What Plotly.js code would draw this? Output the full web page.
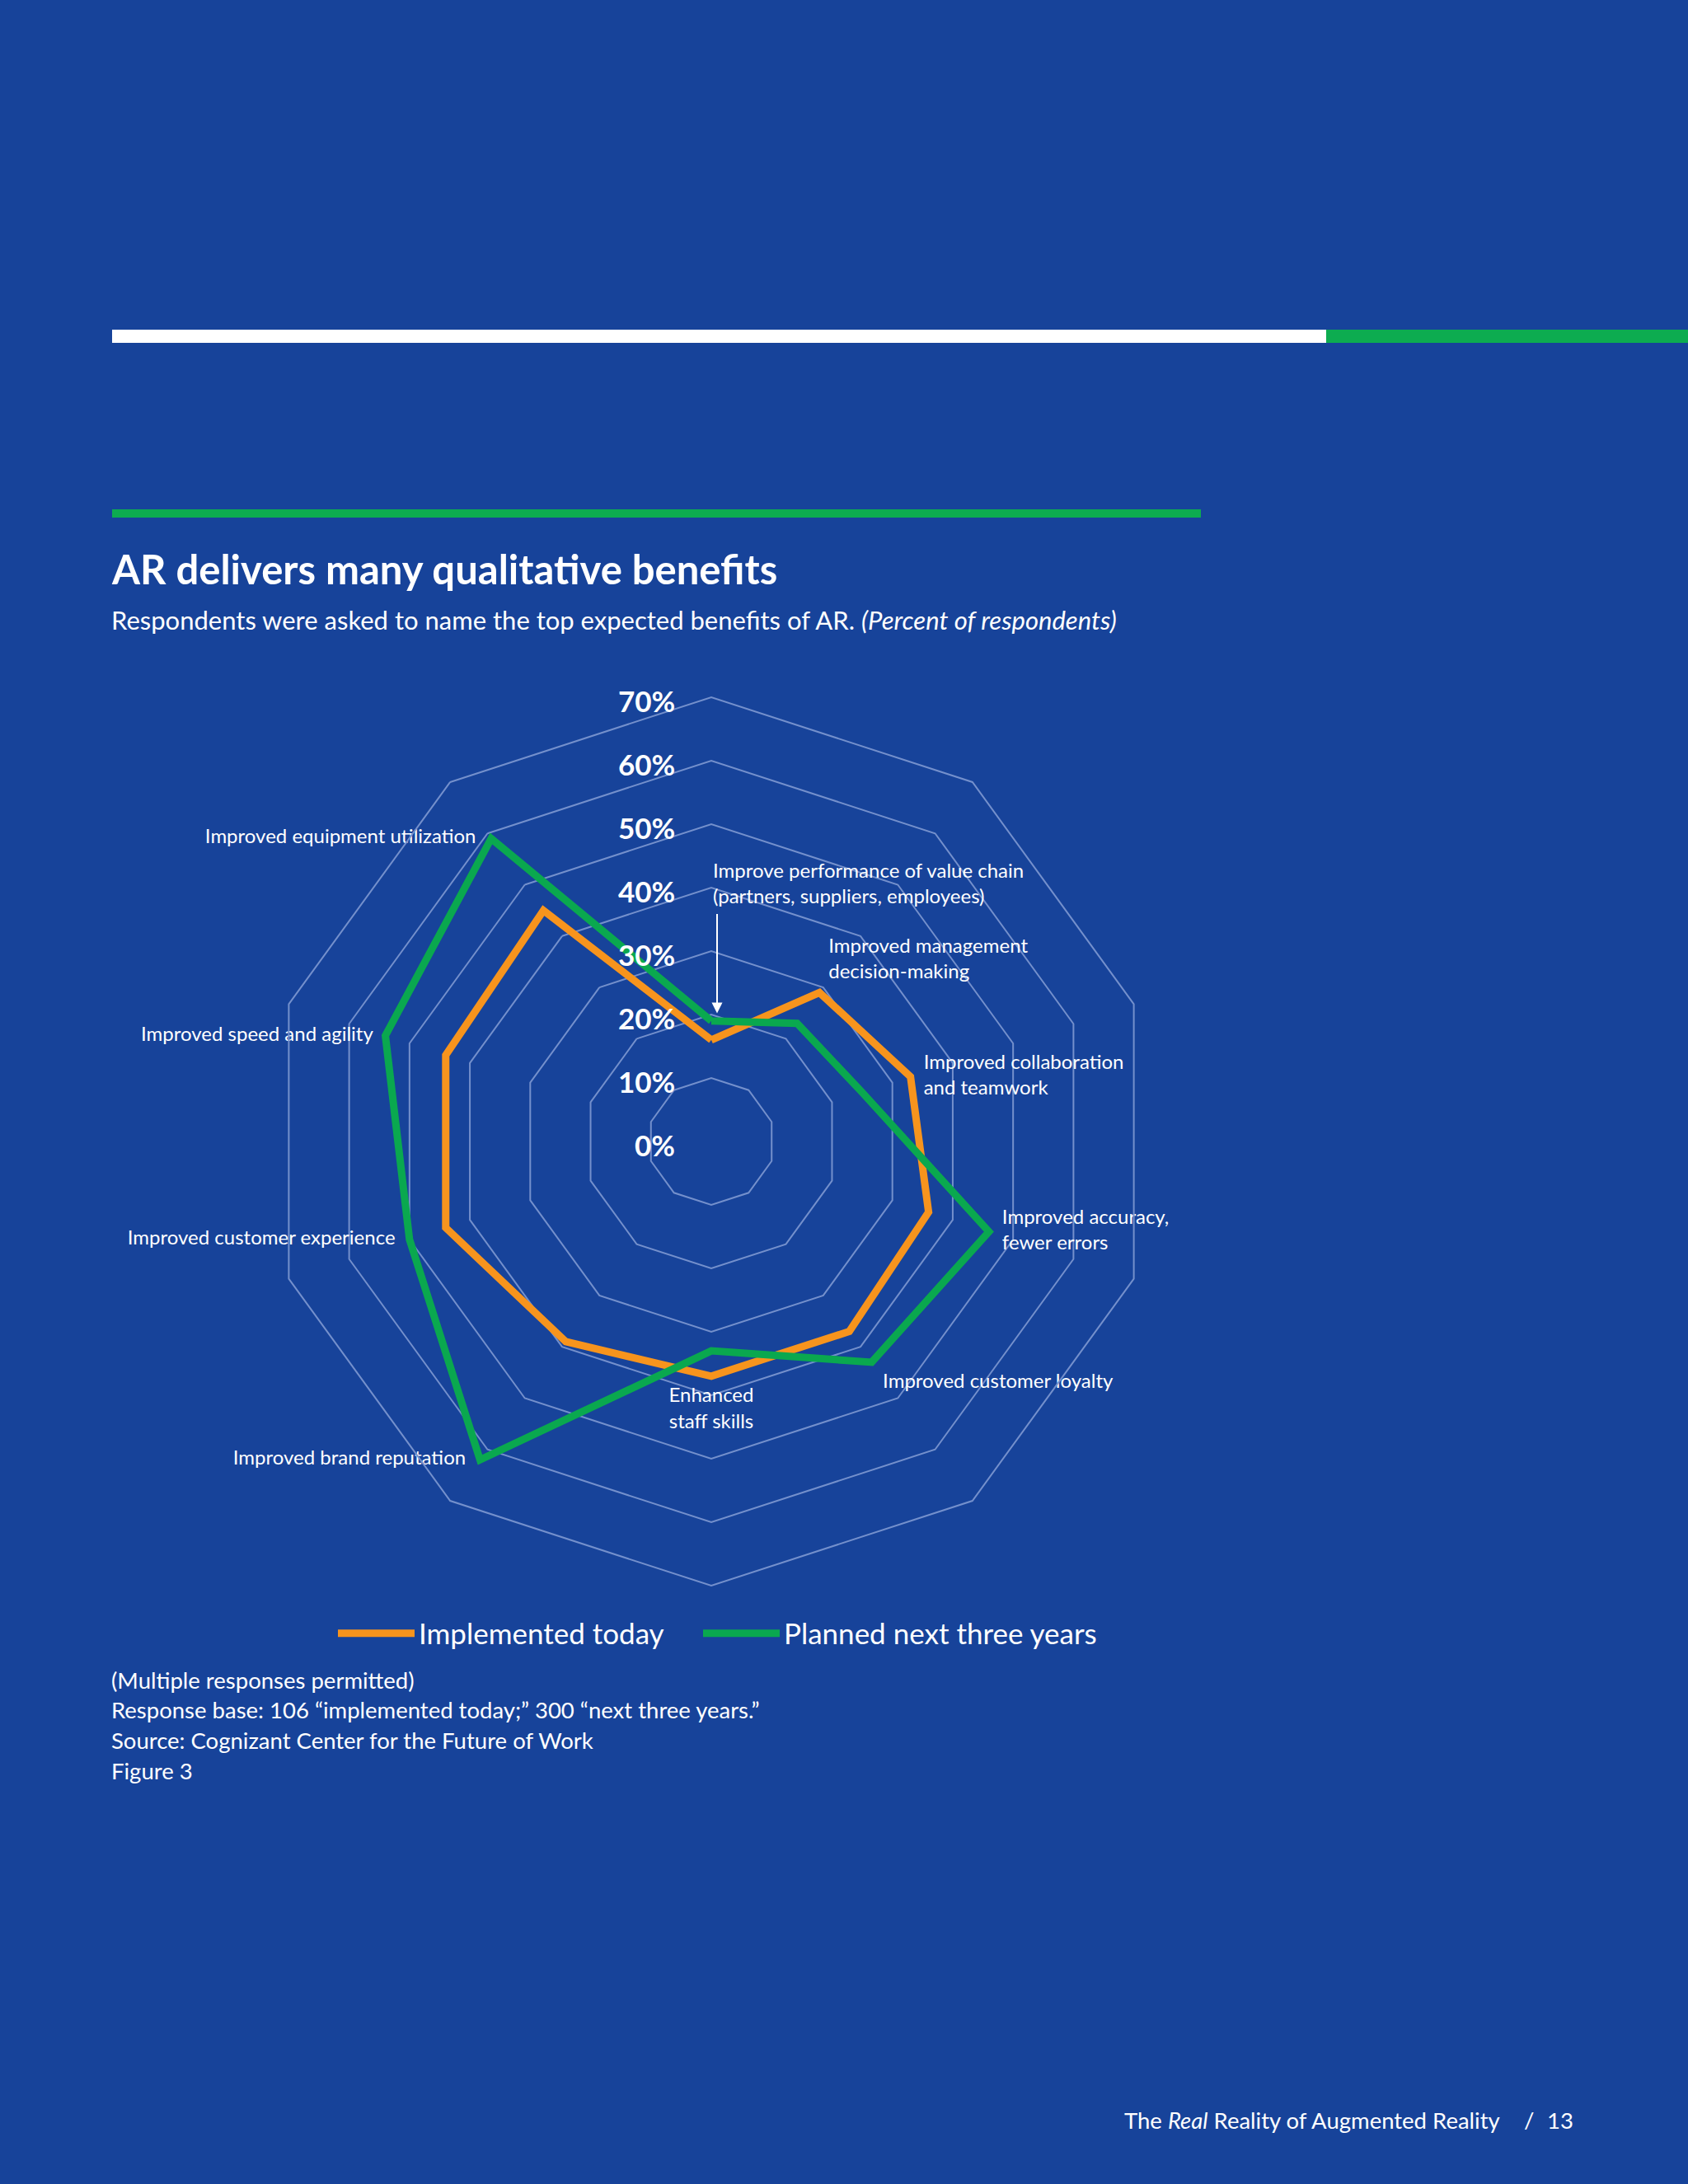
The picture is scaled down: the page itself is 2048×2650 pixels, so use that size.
<!DOCTYPE html>
<html>
<head>
<meta charset="utf-8">
<script src="https://cdn.plot.ly/plotly-3.0.1.min.js"></script>
<style>
  html, body { margin: 0; padding: 0; background: #17439a; }
  #chart { width: 2048px; height: 2650px; }
</style>
</head>
<body>
<div id="chart"></div>
<script>
// values, percent of respondents
const categories = [
    "Improve performance of value chain",
    "Improved management decision-making",
    "Improved collaboration and teamwork",
    "Improved accuracy, fewer errors",
    "Improved customer loyalty",
    "Enhanced staff skills",
    "Improved brand reputation",
    "Improved customer experience",
    "Improved speed and agility",
    "Improved equipment utilization"
];
const category_labels = [
    "",
    "Improved management<br>decision-making",
    "Improved collaboration<br>and teamwork",
    "Improved accuracy,<br>fewer errors",
    "Improved customer loyalty",
    "Enhanced<br>staff skills",
    "Improved brand reputation",
    "Improved customer experience",
    "Improved speed and agility",
    "Improved equipment utilization"
];
const implemented_today = [16, 29, 33, 36, 37, 37, 39, 44, 44, 45];
const planned_next_three_years = [19, 23, 25, 46, 43, 33, 62, 50, 54, 59];
const radial_ticks = [0, 10, 20, 30, 40, 50, 60, 70];
const series_names = ["Implemented today", "Planned next three years"];
const footnotes = [
    "(Multiple responses permitted)",
    "Response base: 106 \u201cimplemented today;\u201d 300 \u201cnext three years.\u201d",
    "Source: Cognizant Center for the Future of Work",
    "Figure 3"
];

// page geometry
const W = 2048, H = 2650;
const BG = "#17439a";
const ORANGE = "#f7941d";
const GREEN = "#0aa84f";
const GRID = "#7490cc";
const FONT = "Lato, 'Open Sans', sans-serif";

// polar centre and outer radius in pixels
const cx = 863, cy = 1385, R = 539;
const r_max = 70;

function px(x) { return x / W; }
function py(y) { return 1 - y / H; }

// map a value on the spoke of category idx to paper coordinates
function polar_to_paper(r, idx) {
    let ang = idx * 2 * Math.PI / categories.length;
    let d = r / r_max * R;
    return {x: px(cx + d * Math.sin(ang)), y: py(cy - d * Math.cos(ang))};
}

function closed(arr) { return arr.concat([arr[0]]); }

let label_r = categories.map((c, i) => Math.max(implemented_today[i], planned_next_three_years[i]));
let label_pos = ["top right", "top right", "middle right", "middle right", "bottom right",
                 "bottom center", "middle left", "middle left", "middle left", "middle left"];
let label_gap = [20, 16, 24, 24, 20, 20, 26, 26, 22, 28];

let data = [
    {
        type: "scatterpolar",
        name: series_names[0],
        legend: "legend",
        r: closed(implemented_today),
        theta: closed(categories),
        mode: "lines",
        line: {color: ORANGE, width: 9},
        hoverinfo: "skip"
    },
    {
        type: "scatterpolar",
        name: series_names[1],
        legend: "legend2",
        r: closed(planned_next_three_years),
        theta: closed(categories),
        mode: "lines",
        line: {color: GREEN, width: 9},
        hoverinfo: "skip"
    },
    {
        // category names next to the outermost point of each spoke
        type: "scatterpolar",
        r: label_r,
        theta: categories,
        mode: "markers+text",
        text: category_labels,
        textposition: label_pos,
        textfont: {family: FONT, size: 24, color: "white"},
        marker: {size: label_gap, color: "rgba(0,0,0,0)", opacity: 0, line: {width: 0}},
        cliponaxis: false,
        showlegend: false,
        hoverinfo: "skip"
    }
];

let tip = polar_to_paper(planned_next_three_years[0] + 1.2, 0);

let annotations = [
    {
        xref: "paper", yref: "paper", x: px(133), y: py(690),
        xanchor: "left", yanchor: "middle", showarrow: false,
        text: "AR delivers many qualitative benefits",
        font: {family: FONT, size: 49, color: "white", weight: 700}
    },
    {
        xref: "paper", yref: "paper", x: px(133), y: py(752),
        xanchor: "left", yanchor: "middle", showarrow: false,
        text: "Respondents were asked to name the top expected benefits of AR. <i>(Percent of respondents)</i>",
        font: {family: FONT, size: 31, color: "white"}
    },
    {
        // arrow down to the value-chain spoke
        xref: "paper", yref: "paper", x: tip.x, y: tip.y, xshift: 7,
        ax: 0, ay: -122, text: "", showarrow: true,
        arrowhead: 2, arrowsize: 1.3, arrowwidth: 2, arrowcolor: "white"
    },
    {
        xref: "paper", yref: "paper", x: tip.x, y: tip.y, yshift: 158,
        xanchor: "left", yanchor: "middle", align: "left", showarrow: false,
        text: "Improve performance of value chain<br>(partners, suppliers, employees)",
        font: {family: FONT, size: 24, color: "white"}
    },
    {
        xref: "paper", yref: "paper", x: px(1822), y: py(2572),
        xanchor: "right", yanchor: "middle", showarrow: false,
        text: "The <i>Real</i> Reality of Augmented Reality",
        font: {family: FONT, size: 27.5, color: "white"}
    },
    {
        xref: "paper", yref: "paper", x: px(1855), y: py(2572),
        xanchor: "center", yanchor: "middle", showarrow: false,
        text: "/", font: {family: FONT, size: 27.5, color: "white"}
    },
    {
        xref: "paper", yref: "paper", x: px(1911), y: py(2572),
        xanchor: "right", yanchor: "middle", showarrow: false,
        text: "13", font: {family: FONT, size: 27.5, color: "white"}
    }
];

// percent labels up the top spoke
for (let v of radial_ticks) {
    let p = polar_to_paper(v, 0);
    annotations.push({
        xref: "paper", yref: "paper", x: p.x, y: p.y, xshift: -42, yshift: -4,
        xanchor: "right", yanchor: "middle", showarrow: false,
        text: v + "%",
        font: {family: FONT, size: 35, color: "white", weight: 700}
    });
}

for (let i = 0; i < footnotes.length; i++) {
    annotations.push({
        xref: "paper", yref: "paper", x: px(133), y: py(2038 + i * 36.7),
        xanchor: "left", yanchor: "middle", showarrow: false,
        text: footnotes[i],
        font: {family: FONT, size: 27.5, color: "white"}
    });
}

let shapes = [
    {type: "rect", xref: "paper", yref: "paper", x0: px(136), x1: px(1609), y0: py(400), y1: py(416),
     fillcolor: "white", line: {width: 0}},
    {type: "rect", xref: "paper", yref: "paper", x0: px(1609), x1: 1, y0: py(400), y1: py(416),
     fillcolor: "#0dac50", line: {width: 0}},
    {type: "rect", xref: "paper", yref: "paper", x0: px(136), x1: px(1457), y0: py(618), y1: py(628),
     fillcolor: "#0dac50", line: {width: 0}}
];

let legend_style = {
    orientation: "h",
    y: py(1982),
    xanchor: "left", yanchor: "middle",
    bgcolor: "rgba(0,0,0,0)",
    font: {family: FONT, size: 35, color: "white"},
    itemwidth: 93
};

let layout = {
    width: W,
    height: H,
    margin: {t: 0, b: 0, l: 0, r: 0},
    paper_bgcolor: BG,
    plot_bgcolor: BG,
    font: {family: FONT, color: "white"},
    hovermode: false,
    showlegend: true,
    legend: {...legend_style, x: px(405)},
    legend2: {...legend_style, x: px(848)},
    polar: {
        domain: {x: [px(cx - R), px(cx + R)], y: [py(cy + R), py(cy - R)]},
        bgcolor: "rgba(0,0,0,0)",
        gridshape: "linear",
        radialaxis: {
            range: [0, r_max],
            tickvals: radial_ticks.slice(1),
            showticklabels: false,
            ticks: "",
            showline: false,
            gridcolor: GRID,
            gridwidth: 2
        },
        angularaxis: {
            type: "category",
            categoryarray: categories,
            rotation: 90,
            direction: "clockwise",
            showticklabels: false,
            ticks: "",
            showgrid: false,
            showline: true,
            linecolor: GRID,
            linewidth: 2
        }
    },
    annotations: annotations,
    shapes: shapes
};

Plotly.newPlot("chart", data, layout, {staticPlot: true});
</script>
</body>
</html>
